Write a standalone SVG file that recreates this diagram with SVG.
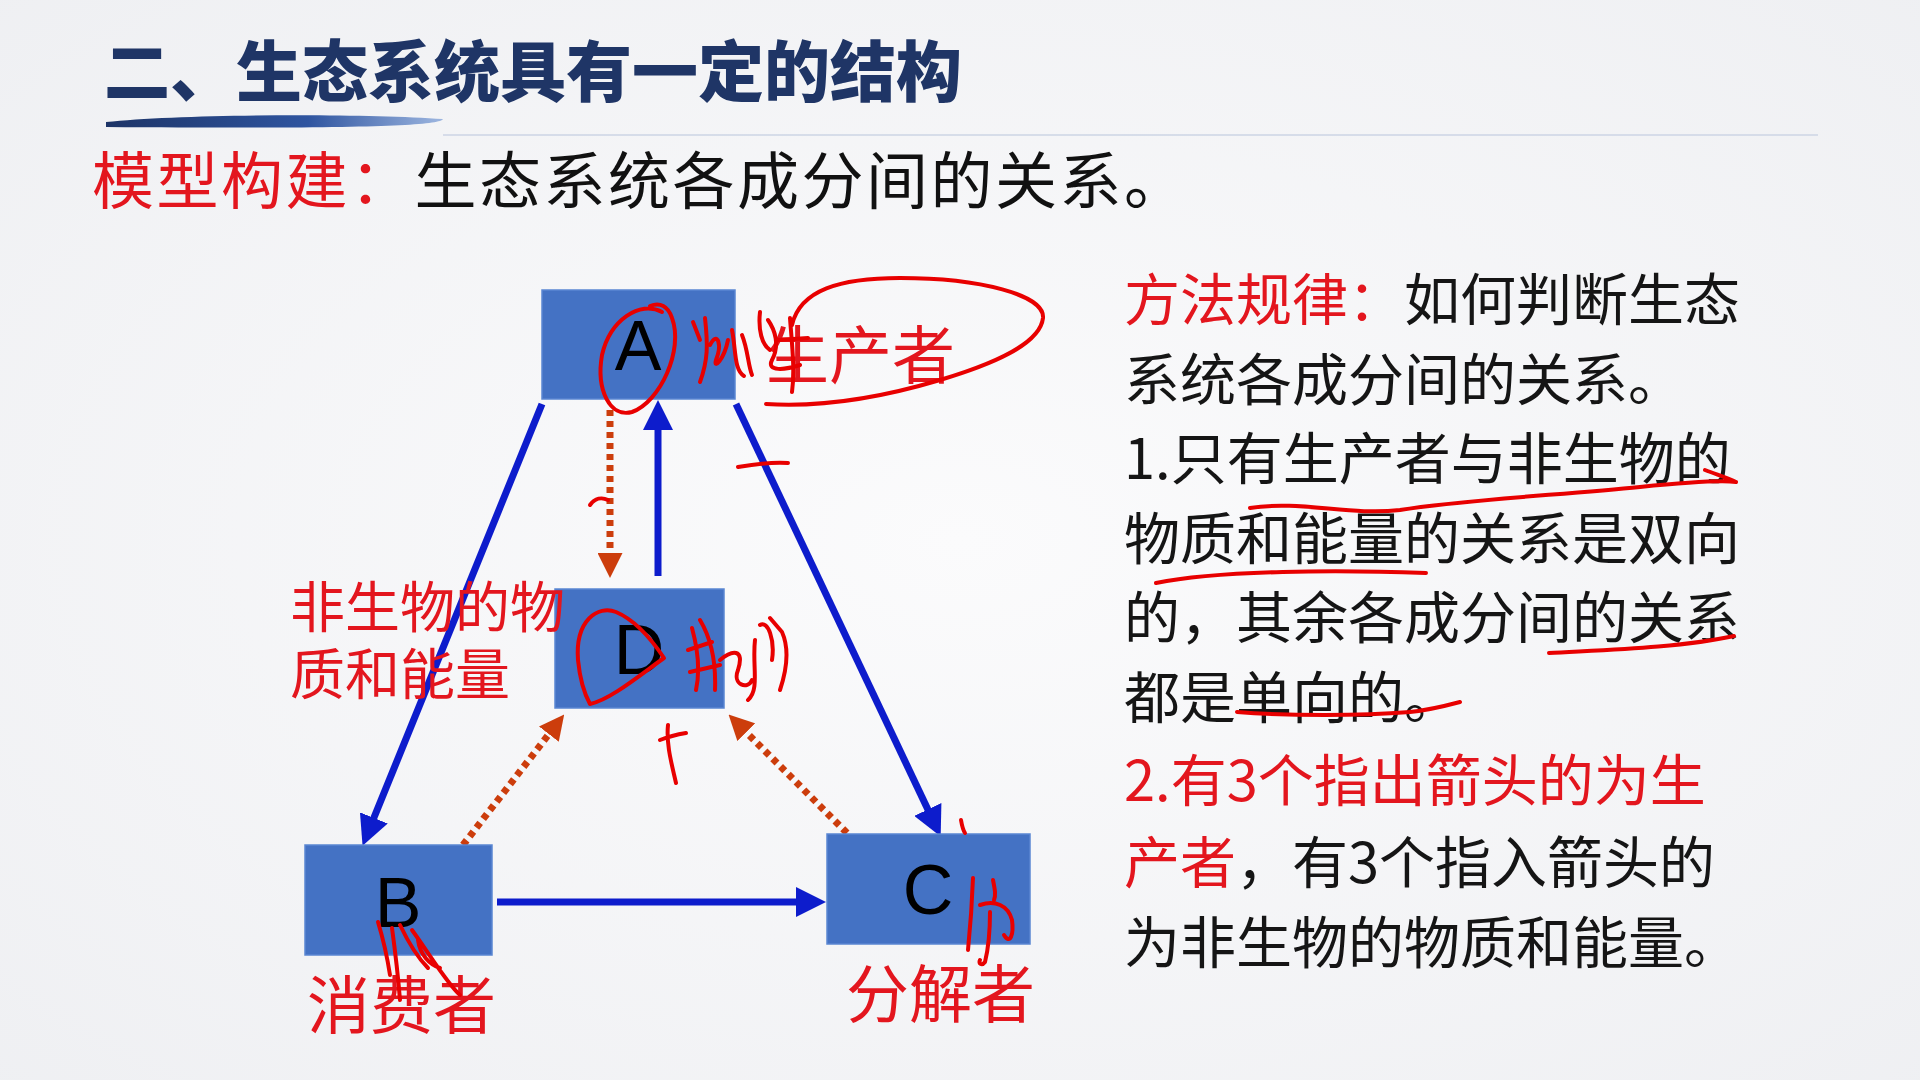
<svg xmlns="http://www.w3.org/2000/svg" width="1920" height="1080" viewBox="0 0 1920 1080">
<defs>
<style>
.title{font-family:"Noto Sans CJK SC","Noto Sans",sans-serif;font-weight:900;font-size:66px;fill:#1f3566}
.sub{font-family:"Noto Sans CJK SC","Noto Sans",sans-serif;font-size:62px;fill:#111;letter-spacing:2.5px}
.body{font-family:"Noto Sans CJK SC","Noto Sans",sans-serif;font-size:56px;fill:#151515}
.red{fill:#e3161e}
.lbl{font-family:"Noto Sans CJK SC","Noto Sans",sans-serif;font-size:55px;fill:#e3161e}
.lbl2{font-family:"Noto Sans CJK SC","Noto Sans",sans-serif;font-size:63px;fill:#e3161e}
.box{fill:#4472c4;stroke:#5a86d2;stroke-width:1.5}
.letter{font-family:"Liberation Sans",Arial,sans-serif;font-size:70px;fill:#000;text-anchor:middle}
.blue{stroke:#0d1ccc;stroke-width:7;fill:none}
.dot{stroke:#cc3d0c;stroke-width:7;fill:none;stroke-dasharray:6 5}
.ink{stroke:#e80000;stroke-width:4;fill:none;stroke-linecap:round;stroke-linejoin:round}
</style>
<marker id="ab" markerUnits="userSpaceOnUse" markerWidth="30" markerHeight="30" viewBox="0 0 30 30" refX="2" refY="15" orient="auto">
<path d="M0,0 L30,15 L0,30 z" fill="#0d1ccc"/>
</marker>
<marker id="ar" markerUnits="userSpaceOnUse" markerWidth="25" markerHeight="25" viewBox="0 0 25 25" refX="2" refY="12.5" orient="auto">
<path d="M0,0 L25,12.5 L0,25 z" fill="#cc3d0c"/>
</marker>
<linearGradient id="sw" x1="0" y1="0" x2="1" y2="0">
<stop offset="0" stop-color="#1d3467"/>
<stop offset="0.6" stop-color="#2f55a0"/>
<stop offset="1" stop-color="#9db6e0"/>
</linearGradient>
<radialGradient id="bg" cx="0.5" cy="0.5" r="0.75">
<stop offset="0" stop-color="#fbfbfc"/>
<stop offset="1" stop-color="#eeeff2"/>
</radialGradient>
</defs>
<rect width="1920" height="1080" fill="url(#bg)"/>

<g id="header">
<text class="title" x="104" y="96">二、生态系统具有一定的结构</text>
<path d="M106,122 C180,114 360,113 443,119 C440,126 360,129 106,127 z" fill="url(#sw)"/>
<line x1="443" y1="135" x2="1818" y2="135" stroke="#cdd4e4" stroke-width="1.5"/>
<text class="sub" x="92" y="204"><tspan class="red">模型构建：</tspan>生态系统各成分间的关系。</text>
</g>

<g id="connectors">
<line class="blue" x1="542" y1="404" x2="373.1" y2="819.8" marker-end="url(#ab)"/>
<line class="blue" x1="736" y1="404" x2="928.7" y2="811.3" marker-end="url(#ab)"/>
<line class="blue" x1="658" y1="576" x2="658" y2="428" marker-end="url(#ab)"/>
<line class="blue" x1="497" y1="902" x2="798" y2="902" marker-end="url(#ab)"/>
<line class="dot" x1="610" y1="410" x2="610" y2="555" marker-end="url(#ar)"/>
<line class="dot" x1="463" y1="845" x2="550.1" y2="732.6" marker-end="url(#ar)"/>
<line class="dot" x1="847" y1="833" x2="744.8" y2="730.8" marker-end="url(#ar)"/>
</g>

<g id="node-A">
<rect class="box" x="542" y="290" width="193" height="109"/>
<text class="letter" x="638" y="370">A</text>
<text class="lbl2" x="766" y="378">生产者</text>
</g>
<g id="node-D">
<rect class="box" x="555" y="589" width="169" height="119"/>
<text class="letter" x="639" y="674">D</text>
<text class="lbl"><tspan x="290" y="627">非生物的物</tspan><tspan x="290" y="694">质和能量</tspan></text>
</g>
<g id="node-B">
<rect class="box" x="305" y="845" width="187" height="110"/>
<text class="letter" x="398" y="927">B</text>
<text class="lbl2" x="307" y="1028">消费者</text>
</g>
<g id="node-C">
<rect class="box" x="827" y="834" width="203" height="110"/>
<text class="letter" x="928" y="914">C</text>
<text class="lbl2" x="846" y="1017">分解者</text>
</g>

<g id="notes">
<text class="body" x="1124" y="320"><tspan class="red">方法规律：</tspan>如何判断生态</text>
<text class="body" x="1124" y="400">系统各成分间的关系。</text>
<text class="body" x="1124" y="479">1.只有生产者与非生物的</text>
<text class="body" x="1124" y="559">物质和能量的关系是双向</text>
<text class="body" x="1124" y="638">的，其余各成分间的关系</text>
<text class="body" x="1124" y="718">都是单向的。</text>
<text class="body red" x="1124" y="801">2.有3个指出箭头的为生</text>
<text class="body" x="1124" y="883"><tspan class="red">产者</tspan>，有3个指入箭头的</text>
<text class="body" x="1124" y="963">为非生物的物质和能量。</text>
</g>

<g id="annotations">
<path class="ink" d="M662,312 C640,300 610,320 602,355 C596,390 610,418 632,412 C660,402 684,350 672,318 C668,306 660,302 650,306"/>
<path class="ink" d="M792,325 C800,290 840,278 900,278 C980,278 1045,295 1043,318 C1040,345 990,365 940,380 C890,395 830,408 766,404"/>
<path class="ink" d="M693,322 L700,340 M705,318 C708,345 708,360 700,382 M710,345 C718,330 722,345 716,360 C713,370 724,360 728,340 M732,330 C736,350 734,370 744,376 M742,335 C748,350 748,365 752,375"/>
<path class="ink" d="M760,312 C758,330 762,345 770,350 M768,320 C775,330 780,345 772,360 C766,372 785,370 800,365 M778,340 L808,338 M790,318 C792,345 795,370 792,392"/>
<path class="ink" d="M692,628 C698,650 700,672 696,690 M688,650 L712,642 M700,620 C712,640 716,665 715,690 M690,672 L720,665 M720,660 C732,650 745,648 738,670 C732,685 748,690 752,680 M755,640 C752,665 760,690 748,700 M760,625 C768,620 775,640 772,660 M770,618 L782,632 C790,650 786,672 780,690"/>
<path class="ink" d="M660,740 C670,736 680,734 686,733 M668,725 C666,745 672,765 676,783"/>
<path class="ink" d="M578,660 C575,620 598,605 616,612 C635,620 652,640 664,658 C640,675 610,700 590,704 C585,695 580,680 578,660"/>
<path class="ink" d="M378,922 C385,945 388,962 390,975 M392,928 C395,950 398,975 400,1000 M400,925 C412,950 420,960 428,968 M412,930 C430,955 448,985 460,995 M418,940 C420,955 430,965 440,968"/>
<path class="ink" d="M973,878 C972,905 970,930 968,950 M993,880 C995,890 996,895 994,900 M980,905 C995,900 1008,905 1012,920 C1014,935 1010,945 1004,935 M990,912 C990,930 988,950 985,962 C982,966 978,964 980,960"/>
<path class="ink" d="M961,820 C962,826 963,830 965,833"/>
<path class="ink" d="M738,467 C755,464 772,462 788,463"/>
<path class="ink" d="M590,505 C595,498 602,497 608,500"/>
<path class="ink" d="M1250,508 C1300,500 1350,516 1400,510 C1460,500 1560,495 1640,487 C1690,482 1720,480 1736,482 M1705,470 C1718,475 1728,478 1736,482"/>
<path class="ink" d="M1156,583 C1220,570 1340,570 1426,573"/>
<path class="ink" d="M1549,653 C1600,650 1680,648 1734,636"/>
<path class="ink" d="M1237,712 C1290,716 1360,716 1410,712 C1430,710 1445,706 1460,702"/>
</g>
</svg>
